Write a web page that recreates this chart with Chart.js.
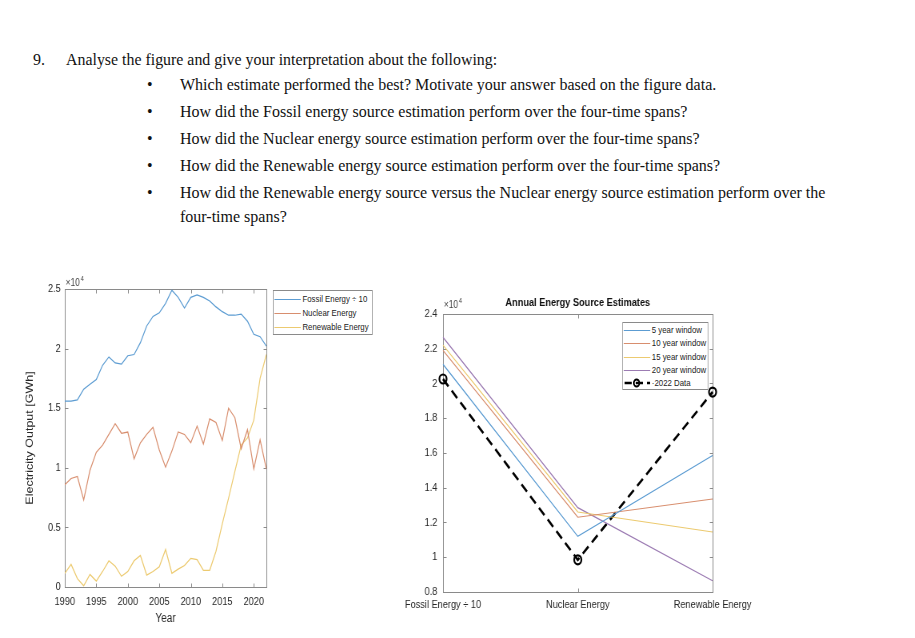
<!DOCTYPE html>
<html>
<head>
<meta charset="utf-8">
<script src="https://cdn.jsdelivr.net/npm/chart.js@4"></script>
<style>
body { margin:0; background:#fff; width:915px; height:638px; position:relative; overflow:hidden; }
.q { position:absolute; font-family:"Liberation Serif","Times New Roman",serif; font-size:16px; line-height:17px; color:#111; white-space:nowrap; }
/* the source figure is squeezed sideways, so each chart panel is drawn wide and scaled */
.panel { position:absolute; transform:scaleX(0.8); transform-origin:0 0; }
.panel canvas { position:absolute; left:0; top:0; }
.leg { position:absolute; background:#fff; border:1px solid #8a8a8a; font-family:"Liberation Sans",Arial,sans-serif; font-size:9.8px; color:#222; }
.leg div { position:absolute; left:0; white-space:nowrap; line-height:13px; }
.leg span.ln { display:inline-block; width:33px; height:0; border-top:1px solid; vertical-align:middle; margin:0 2px 0 1px; }
</style>
</head>
<body>

<div class="q" style="left:33px;top:51px">9.</div>
<div class="q" style="left:66px;top:51px;font-size:15.9px">Analyse the figure and give your interpretation about the following:</div>
<div class="q" style="left:147px;top:76px">•</div>
<div class="q" style="left:180px;top:76px">Which estimate performed the best? Motivate your answer based on the figure data.</div>
<div class="q" style="left:147px;top:103px">•</div>
<div class="q" style="left:180px;top:103px">How did the Fossil energy source estimation perform over the four-time spans?</div>
<div class="q" style="left:147px;top:130px">•</div>
<div class="q" style="left:180px;top:130px">How did the Nuclear energy source estimation perform over the four-time spans?</div>
<div class="q" style="left:147px;top:157px">•</div>
<div class="q" style="left:180px;top:157px">How did the Renewable energy source estimation perform over the four-time spans?</div>
<div class="q" style="left:147px;top:184px">•</div>
<div class="q" style="left:180px;top:184px">How did the Renewable energy source versus the Nuclear energy source estimation perform over the</div>
<div class="q" style="left:180px;top:208px">four-time spans?</div>

<div class="panel" style="left:20px;top:255px;width:450px;height:375px">
  <canvas id="leftChart" width="450" height="375"></canvas>
  <div class="leg" style="left:316px;top:35px;width:123px;height:43px">
    <div style="top:1px"><span class="ln" style="border-color:#5c9cd2"></span>Fossil Energy ÷ 10</div>
    <div style="top:15px"><span class="ln" style="border-color:#d88e6e"></span>Nuclear Energy</div>
    <div style="top:29px"><span class="ln" style="border-color:#ecca70"></span>Renewable Energy</div>
  </div>
</div>

<div class="panel" style="left:395px;top:285px;width:463px;height:345px">
  <canvas id="rightChart" width="463" height="345"></canvas>
  <div class="leg" style="left:284px;top:37px;width:106px;height:66px">
    <div style="top:0px"><span class="ln" style="border-color:#5c9cd2"></span>5 year window</div>
    <div style="top:13px"><span class="ln" style="border-color:#d88e6e"></span>10 year window</div>
    <div style="top:27px"><span class="ln" style="border-color:#ecca70"></span>15 year window</div>
    <div style="top:40px"><span class="ln" style="border-color:#9c7cb3"></span>20 year window</div>
    <div style="top:53px"><svg width="33" height="10" style="vertical-align:middle;margin:0 2px 0 1px"><line x1="1" y1="5" x2="33" y2="5" stroke="#000" stroke-width="2.5" stroke-dasharray="9,5"/><circle cx="16" cy="5" r="3.5" fill="none" stroke="#000" stroke-width="2"/></svg>·2022 Data</div>
  </div>
</div>

<script>
// yearly output, GWh (fossil already divided by 10)
const years = [1990,1991,1992,1993,1994,1995,1996,1997,1998,1999,2000,2001,2002,2003,2004,2005,2006,2007,2008,2009,2010,2011,2012,2013,2014,2015,2016,2017,2018,2019,2020,2021,2022]
const fossilDiv10 = [15600,15600,15700,16600,17000,17400,18600,19300,18800,18700,19400,19500,20500,21900,22700,23000,23800,24900,24300,23400,24300,24500,24300,24000,23500,23100,22800,22800,22900,22300,21200,21000,20200]
const nuclear = [8570,9100,9270,7300,9800,11300,11900,12800,13700,12900,13000,10750,12100,12800,13400,11500,10050,11400,13000,12800,12100,13500,12000,14100,13800,12300,15000,14200,11600,13200,9900,12350,9900]
const renewable = [1150,1900,700,100,1050,500,1300,2200,1750,900,1300,2200,2650,1000,1300,1700,3150,1150,1500,1800,2400,2300,1400,1400,3000,5300,7450,9700,11900,12500,14000,17500,19500]

// estimates for 2022 per source
const sources = ["Fossil Energy ÷ 10","Nuclear Energy","Renewable Energy"]
const win5 = [21100,11200,15850]
const win10 = [21900,12300,13350]
const win15 = [22200,12600,11450]
const win20 = [22650,12850,8650]
const data2022 = [20250,9850,19500]

const FONT = '"Liberation Sans",Arial,sans-serif'
Chart.defaults.font.family = FONT
Chart.defaults.font.size = 11.5
Chart.defaults.color = "#262626"

const BLUE = "#5c9cd2", ORANGE = "#d88e6e", YELLOW = "#ecca70", PURPLE = "#9c7cb3"

// matlab style box, inward ticks on all sides and the x10^4 label
const matlabAxes = {
  id: "matlabAxes",
  beforeDatasetsDraw(chart, args, opts) {
    const ctx = chart.ctx, a = chart.chartArea, sx = chart.scales.x, sy = chart.scales.y
    const L = Math.round(a.left) + 0.5, R = Math.round(a.right) + 0.5
    const T = Math.round(a.top) + 0.5, B = Math.round(a.bottom) + 0.5
    ctx.save()
    ctx.strokeStyle = "#8a8a8a"
    ctx.lineWidth = 1
    ctx.strokeRect(L, T, R - L, B - T)
    ctx.beginPath()
    sx.ticks.forEach((t, i) => {
      let x = Math.round(sx.getPixelForTick(i)) + 0.5
      ctx.moveTo(x, B); ctx.lineTo(x, B - 4)
      ctx.moveTo(x, T); ctx.lineTo(x, T + 4)
    })
    sy.ticks.forEach((t, i) => {
      let y = Math.round(sy.getPixelForTick(i)) + 0.5
      ctx.moveTo(L, y); ctx.lineTo(L + 4, y)
      ctx.moveTo(R, y); ctx.lineTo(R - 4, y)
    })
    ctx.stroke()
    ctx.fillStyle = "#444"
    ctx.textBaseline = "middle"
    ctx.font = "10.5px " + FONT
    ctx.fillText("×10", a.left + 1, a.top - opts.expOffset)
    let w = ctx.measureText("×10").width
    ctx.font = "7.5px " + FONT
    ctx.fillText("4", a.left + 2 + w, a.top - opts.expOffset - 4)
    ctx.restore()
  }
}

const tick4 = v => String(Math.round(v / 1000) / 10)

new Chart(document.getElementById("leftChart"), {
  type: "line",
  data: {
    labels: years,
    datasets: [
      { label: "Fossil Energy ÷ 10", data: fossilDiv10, borderColor: BLUE },
      { label: "Nuclear Energy", data: nuclear, borderColor: ORANGE },
      { label: "Renewable Energy", data: renewable, borderColor: YELLOW }
    ].map(d => ({ ...d, data: d.data.map((v, i) => ({ x: years[i], y: v })), borderWidth: 1.2, pointRadius: 0, tension: 0 }))
  },
  options: {
    responsive: false,
    animation: false,
    layout: { padding: { left: 0, top: 34, right: 142, bottom: 0 } },
    plugins: { legend: { display: false }, tooltip: { enabled: false }, matlabAxes: { expOffset: 6 } },
    scales: {
      x: {
        type: "linear", min: 1990, max: 2022,
        ticks: { stepSize: 5, includeBounds: false, padding: 8, callback: v => String(v) },
        grid: { display: false, drawTicks: false }, border: { display: false },
        title: { display: true, text: "Year", font: { size: 12.5 }, padding: { top: 0, bottom: 4 } },
        afterFit: s => { s.height = 43 }
      },
      y: {
        min: 0, max: 25000,
        ticks: { stepSize: 5000, padding: 5, callback: tick4 },
        grid: { display: false, drawTicks: false }, border: { display: false },
        title: { display: true, text: "Electricity Output [GWh]", font: { size: 12.5 }, padding: { top: 5, bottom: 0 } },
        afterFit: s => { s.width = 56 }
      }
    }
  },
  plugins: [matlabAxes]
})

new Chart(document.getElementById("rightChart"), {
  type: "line",
  data: {
    labels: sources,
    datasets: [
      { label: "5 year window", data: win5, borderColor: BLUE, borderWidth: 1.2, pointRadius: 0 },
      { label: "10 year window", data: win10, borderColor: ORANGE, borderWidth: 1.2, pointRadius: 0 },
      { label: "15 year window", data: win15, borderColor: YELLOW, borderWidth: 1.2, pointRadius: 0 },
      { label: "20 year window", data: win20, borderColor: PURPLE, borderWidth: 1.2, pointRadius: 0 },
      { label: "2022 Data", data: data2022, borderColor: "#000", borderWidth: 2.6, borderDash: [10, 6],
        pointRadius: 4.5, pointBorderWidth: 2.2, pointBorderColor: "#000", pointBackgroundColor: "rgba(0,0,0,0)", clip: false }
    ]
  },
  options: {
    responsive: false,
    animation: false,
    layout: { padding: { left: 0, top: 0, right: 66, bottom: 0 } },
    plugins: {
      legend: { display: false }, tooltip: { enabled: false },
      matlabAxes: { expOffset: 9 },
      title: { display: true, fullSize: false, text: "Annual Energy Source Estimates", color: "#111",
        font: { size: 11.5, weight: "bold" }, padding: { top: 11, bottom: 4 } }
    },
    scales: {
      x: {
        offset: false,
        ticks: { padding: 6, maxRotation: 0, autoSkip: false },
        grid: { display: false, drawTicks: false }, border: { display: false },
        afterFit: s => { s.height = 38 }
      },
      y: {
        min: 8000, max: 24000,
        ticks: { stepSize: 2000, padding: 7, callback: tick4 },
        grid: { display: false, drawTicks: false }, border: { display: false },
        afterFit: s => { s.width = 60 }
      }
    }
  },
  plugins: [matlabAxes]
})
</script>
</body>
</html>
